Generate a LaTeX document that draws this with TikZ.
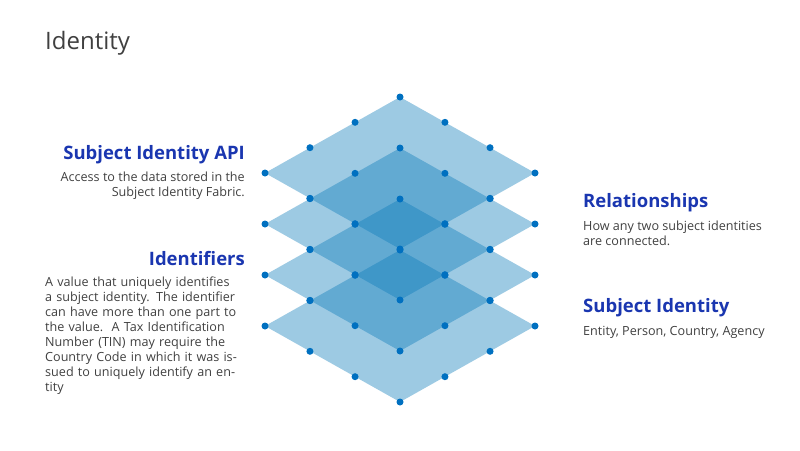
\documentclass[tikz,border=0pt]{standalone}
\usepackage{fontspec}
\setmainfont{Open Sans}
\usetikzlibrary{calc}
\definecolor{layerblue}{RGB}{10,122,185}
\definecolor{dotblue}{RGB}{0,112,192}
\definecolor{headblue}{RGB}{26,54,176}
\definecolor{bodygray}{RGB}{64,64,64}
\tikzset{
	layer/.style={fill=layerblue, fill opacity=0.4, draw=none},
	dot/.style={circle, fill=dotblue, inner sep=0pt, minimum size=7pt},
	heading/.style={text=headblue, font=\fontsize{18.5}{22}\selectfont\bfseries, inner sep=0pt},
	body/.style={text=bodygray, font=\fontsize{12.6}{15}\selectfont, inner sep=0pt}
}
\begin{document}
\begin{tikzpicture}[x=1pt, y=-1pt]
	\useasboundingbox (0,0) rectangle (800,450);
	
	% Title
	\node[anchor=west, text=bodygray, font=\fontsize{24}{28}\selectfont, inner sep=0pt] (title) at (45,43) {Identity};
	
	% Layers: four rhombi, each shifted down by 51
	\foreach \i in {0,1,2,3} {
		\coordinate (T\i) at (400, 97+51*\i);
		\coordinate (L\i) at (265, 173+51*\i);
		\coordinate (R\i) at (535, 173+51*\i);
		\coordinate (B\i) at (400, 249+51*\i);
		\fill[layer] (T\i) -- (R\i) -- (B\i) -- (L\i) -- cycle;
	}
	
	% Dots at corners and at thirds of each edge
	\foreach \i in {0,1,2,3} {
		\foreach \p in {T,L,R,B}
			\node[dot] at (\p\i) {};
		\foreach \f in {0.333,0.667} {
			\node[dot] at ($(T\i)!\f!(L\i)$) {};
			\node[dot] at ($(T\i)!\f!(R\i)$) {};
			\node[dot] at ($(B\i)!\f!(L\i)$) {};
			\node[dot] at ($(B\i)!\f!(R\i)$) {};
		}
	}
	
	% Left texts
	\node[heading, anchor=east] (api) at (245,155) {Subject Identity API};
	\node[body, anchor=north east, align=right] (apitext) at (245,172) {Access to the data stored in the\\Subject Identity Fabric.};
	\node[heading, anchor=east] (ids) at (245,259) {Identifiers};
	\node[body, anchor=north west, align=left, text width=203pt] (idstext) at (45,277) {A value that uniquely identifies a subject identity. The identifier can have more than one part to the value.\ \ A Tax Identification Number (TIN) may require the Country Code in which it was issued to uniquely identify an entity};
	
	% Right texts
	\node[heading, anchor=west] (rel) at (583,203) {Relationships};
	\node[body, anchor=north west, align=left] (reltext) at (583,221) {How any two subject identities\\are connected.};
	\node[heading, anchor=west] (subj) at (583,308) {Subject Identity};
	\node[body, anchor=north west] (subjtext) at (583,326) {Entity, Person, Country, Agency};
\end{tikzpicture}
\end{document}
